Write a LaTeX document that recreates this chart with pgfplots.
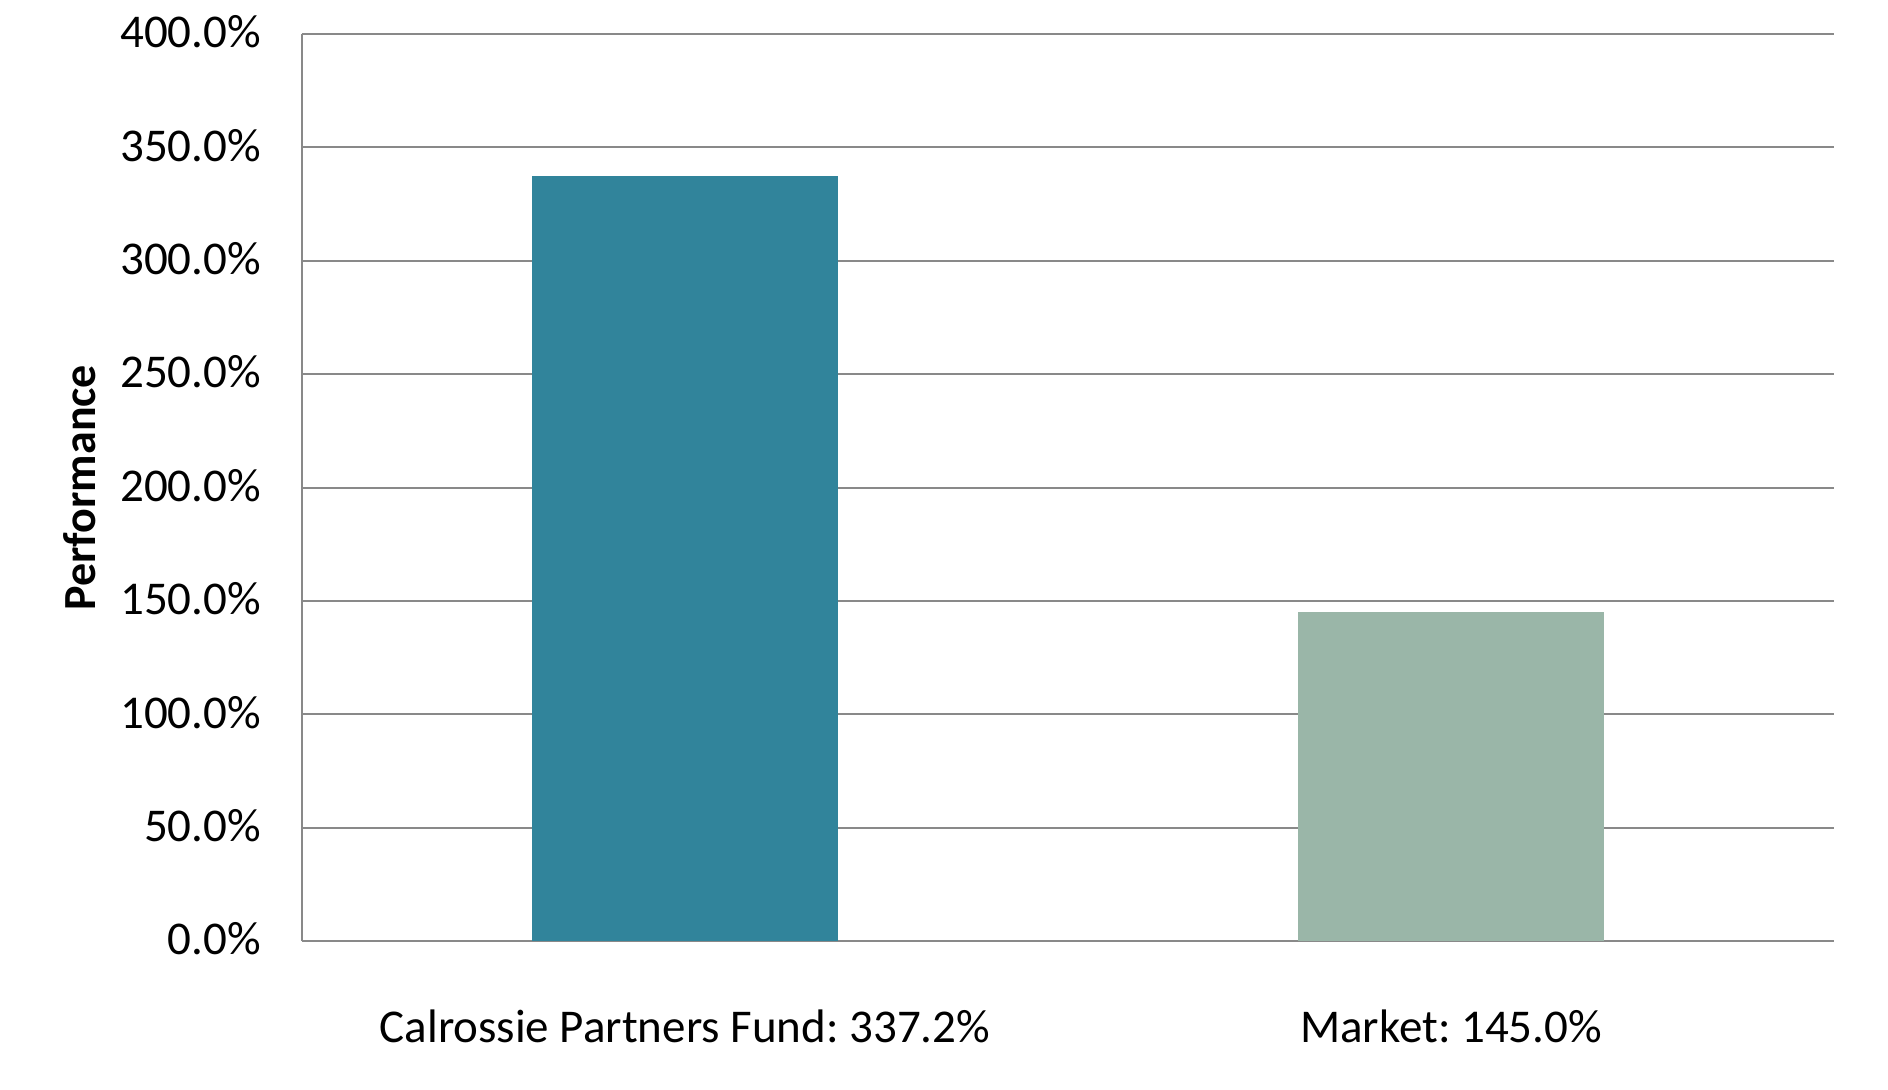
\documentclass[border=0pt]{standalone}
\usepackage{pgfplots}
\pgfplotsset{compat=1.18}
\usepackage{fontspec}
\setmainfont{Carlito}
\frenchspacing
\definecolor{fundc}{RGB}{49,132,155}
\definecolor{mktc}{RGB}{154,182,168}
\definecolor{gridc}{RGB}{137,137,137}
\begin{document}
\begin{tikzpicture}
\path[use as bounding box] (-151pt,-74pt) rectangle (793pt,470.5pt);
\begin{axis}[
  at={(0pt,0pt)}, anchor=south west,
  scale only axis,
  width=766pt, height=453.5pt,
  xmin=-0.5, xmax=1.5,
  ymin=0, ymax=400,
  ytick={0,50,...,400},
  xtick={0,1},
  xticklabels={Calrossie Partners Fund: 337.2\%, Market: 145.0\%},
  yticklabel={\pgfmathprintnumber[fixed,fixed zerofill,precision=1]{\tick}\%},
  /pgf/number format/assume math mode=true,
  major tick length=0pt,
  ymajorgrids,
  grid style={gridc, line width=1pt},
  axis line style={gridc, line width=1pt},
  axis x line*=bottom,
  axis y line*=left,
  separate axis lines,
  x axis line style={-},
  y axis line style={-},
  tick label style={font=\fontsize{23.5}{28}\selectfont, black},
  yticklabel style={xshift=-17pt, yshift=1pt},
  xticklabel style={yshift=-31pt},
  ylabel={\textbf{Performance}},
  every axis y label/.style={at={(axis description cs:0,0.5)}, rotate=90, anchor=center, yshift=111pt, font=\fontsize{23}{27}\selectfont},
  ybar, bar width=153pt,
]
\addplot[fill=fundc, draw=none, bar shift=0pt] coordinates {(0,337.2)};
\addplot[fill=mktc, draw=none, bar shift=0pt] coordinates {(1,145.0)};
\end{axis}
\end{tikzpicture}
\end{document}
